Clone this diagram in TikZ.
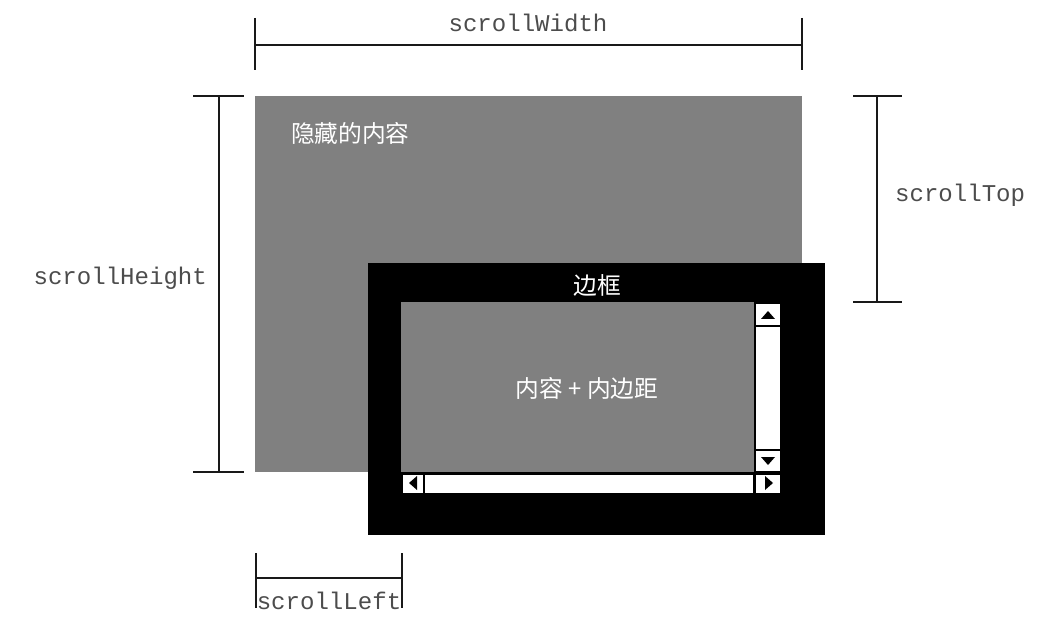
\documentclass[tikz,border=0pt]{standalone}
\usepackage{fontspec}
\setmonofont{Liberation Mono}
\newfontfamily\cjkfont{Noto Sans CJK SC}
\usepackage{xcolor}
\usetikzlibrary{positioning,calc}

\begin{document}
\begin{tikzpicture}[x=0.02cm,y=-0.02cm,
  dim/.style={line width=1.1pt, color=black!90},
  lbl/.style={font=\ttfamily\fontsize{13.7}{16}\selectfont, text=black!70, inner sep=1pt},
  cjk/.style={font=\cjkfont\fontsize{13.5}{16}\selectfont, text=white, inner sep=1pt},
  btn/.style={fill=white, draw=black, line width=0.6pt},
  tri/.style={fill=black}]
\useasboundingbox (0,0) rectangle (1062,628);

% hidden content and the box
\coordinate (hidTL) at (255,96);   \coordinate (hidBR) at (802,472);
\coordinate (boxTL) at (368,263);  \coordinate (boxBR) at (825,535);
\coordinate (viewTL) at (401,302); \coordinate (viewBR) at (754,472);
\fill[gray] (hidTL) rectangle (hidBR);
\node[cjk, anchor=west] (hidtxt) at (289,133) {隐藏的内容};
\fill[black] (boxTL) rectangle (boxBR);
\fill[gray] (viewTL) rectangle (viewBR);
\node[cjk] (border) at (597,285) {边框};
\node[cjk] (content) at (587,388) {内容 + 内边距};

% scrollbars
\draw[btn] (755,303) rectangle (781,472);
\draw[btn] (755,303) rectangle (781,326);
\draw[btn] (755,450) rectangle (781,472);
\draw[btn] (402,474) rectangle (754,494);
\draw[btn] (402,474) rectangle (424,494);
\draw[btn] (755,474) rectangle (781,494);
\fill[tri] (761,319) -- (775,319) -- (768,311) -- cycle;
\fill[tri] (761,457) -- (775,457) -- (768,465) -- cycle;
\fill[tri] (417,476) -- (417,490) -- (409,483) -- cycle;
\fill[tri] (765,476) -- (765,490) -- (773,483) -- cycle;

% scrollWidth
\coordinate (wL) at (255,45); \coordinate (wR) at (802,45);
\draw[dim] ($(wL)+(0,-27)$) -- ($(wL)+(0,25)$);
\draw[dim] ($(wR)+(0,-27)$) -- ($(wR)+(0,25)$);
\draw[dim] (wL) -- (wR);
\node[lbl] (wtxt) at (528,23) {scrollWidth};

% scrollHeight
\coordinate (hT) at (219,96); \coordinate (hB) at (219,472);
\draw[dim] ($(hT)+(-26,0)$) -- ($(hT)+(25,0)$);
\draw[dim] ($(hB)+(-26,0)$) -- ($(hB)+(25,0)$);
\draw[dim] (hT) -- (hB);
\node[lbl, anchor=east] (htxt) at (209,278) {scrollHeight};

% scrollTop
\coordinate (tT) at (877,96); \coordinate (tB) at (877,302);
\draw[dim] ($(tT)+(-24,0)$) -- ($(tT)+(25,0)$);
\draw[dim] ($(tB)+(-24,0)$) -- ($(tB)+(25,0)$);
\draw[dim] (tT) -- (tB);
\node[lbl, anchor=west] (ttxt) at (893,195) {scrollTop};

% scrollLeft
\coordinate (lL) at (256,578); \coordinate (lR) at (402,578);
\draw[dim] ($(lL)+(0,-25)$) -- ($(lL)+(0,30)$);
\draw[dim] ($(lR)+(0,-25)$) -- ($(lR)+(0,30)$);
\draw[dim] (lL) -- (lR);
\node[lbl] (ltxt) at (329,601) {scrollLeft};
\end{tikzpicture}
\end{document}
